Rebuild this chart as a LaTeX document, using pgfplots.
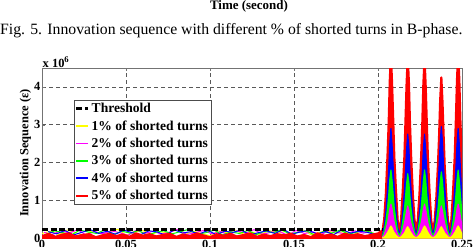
\documentclass[border=0pt]{standalone}
\usepackage{pgfplots}
\pgfplotsset{compat=1.18}
\usepackage{fontspec}
\setmainfont{Liberation Serif}

\definecolor{mYellow}{rgb}{1,1,0}
\definecolor{mMagenta}{rgb}{1,0,1}
\definecolor{mGreen}{rgb}{0,1,0}
\definecolor{mBlue}{rgb}{0,0,1}
\definecolor{mRed}{rgb}{1,0,0}

\begin{document}
\begin{tikzpicture}
\begin{axis}[
  at={(0,0)}, anchor=south west,
  scale only axis, width=420bp, height=170bp,
  xmin=0, xmax=0.25, ymin=0, ymax=4.5,
  xtick={0,0.05,0.1,0.15,0.2,0.25},
  xticklabels={0,0.05,0.1,0.15,0.2,0.25},
  ytick={0,1,2,3,4}, yticklabels={0,1,2,3,4},
  tick label style={font=\bfseries\fontsize{12.5}{13}\selectfont},
  yticklabel style={inner sep=1.5bp},
  xticklabel style={inner sep=2bp},
  grid=major,
  major grid style={black!65, line width=0.5bp, dash pattern=on 4bp off 3bp},
  axis line style={black!55, line width=0.6bp},
  tick style={black!55},
  major tick length=3bp,
  ylabel={Innovation Sequence (ε)},
  ylabel style={font=\bfseries\fontsize{12.5}{13}\selectfont, yshift=-2bp},
  legend style={at={(0.076,0.812)}, anchor=north west,
    font=\bfseries\fontsize{13.6}{14}\selectfont,
    draw=black!70, line width=0.6bp, fill=white,
    inner xsep=1bp, inner ysep=1bp, row sep=2.4bp},
  legend cell align=left,
  legend image code/.code={\draw[#1] (0bp,0bp) -- (12bp,0bp);},
]

% legend entries
\addlegendimage{black, line width=2.5bp, dash pattern=on 6bp off 2.5bp}
\addlegendentry{Threshold}
\addlegendimage{mYellow, line width=1.8bp}
\addlegendentry{1\% of shorted turns}
\addlegendimage{mMagenta, line width=1.8bp}
\addlegendentry{2\% of shorted turns}
\addlegendimage{mGreen, line width=1.8bp}
\addlegendentry{3\% of shorted turns}
\addlegendimage{mBlue, line width=1.8bp}
\addlegendentry{4\% of shorted turns}
\addlegendimage{mRed, line width=1.8bp}
\addlegendentry{5\% of shorted turns}

% healthy-state residuals (before the fault)
\addplot[mYellow, line width=1bp, forget plot] coordinates {
(0,0.12)(0.005,0.18)(0.010,0.09)(0.015,0.21)(0.020,0.14)(0.025,0.07)(0.030,0.19)(0.035,0.11)(0.040,0.16)(0.045,0.23)
(0.050,0.08)(0.055,0.15)(0.060,0.20)(0.065,0.10)(0.070,0.17)(0.075,0.13)(0.080,0.22)(0.085,0.09)(0.090,0.18)(0.095,0.12)
(0.100,0.06)(0.105,0.19)(0.110,0.14)(0.115,0.21)(0.120,0.10)(0.125,0.16)(0.130,0.08)(0.135,0.20)(0.140,0.13)(0.145,0.17)
(0.150,0.11)(0.155,0.22)(0.160,0.09)(0.165,0.15)(0.170,0.19)(0.175,0.12)(0.180,0.18)(0.185,0.07)(0.190,0.21)(0.195,0.14)
(0.200,0.10)};
\addplot[mMagenta, line width=1bp, forget plot] coordinates {
(0.0012,0.15)(0.0062,0.09)(0.0112,0.20)(0.0162,0.13)(0.0212,0.22)(0.0262,0.08)(0.0312,0.17)(0.0362,0.11)(0.0412,0.19)(0.0462,0.14)
(0.0512,0.07)(0.0562,0.21)(0.0612,0.12)(0.0662,0.18)(0.0712,0.10)(0.0762,0.16)(0.0812,0.23)(0.0862,0.09)(0.0912,0.14)(0.0962,0.20)
(0.1012,0.11)(0.1062,0.17)(0.1112,0.08)(0.1162,0.19)(0.1212,0.13)(0.1262,0.22)(0.1312,0.10)(0.1362,0.15)(0.1412,0.18)(0.1462,0.07)
(0.1512,0.20)(0.1562,0.12)(0.1612,0.16)(0.1662,0.09)(0.1712,0.21)(0.1762,0.14)(0.1812,0.11)(0.1862,0.19)(0.1912,0.13)(0.1962,0.17)};
\addplot[mGreen, line width=1bp, forget plot] coordinates {
(0.0025,0.10)(0.0075,0.19)(0.0125,0.14)(0.0175,0.08)(0.0225,0.21)(0.0275,0.16)(0.0325,0.12)(0.0375,0.22)(0.0425,0.09)(0.0475,0.18)
(0.0525,0.13)(0.0575,0.20)(0.0625,0.07)(0.0675,0.15)(0.0725,0.19)(0.0775,0.11)(0.0825,0.17)(0.0875,0.23)(0.0925,0.10)(0.0975,0.14)
(0.1025,0.21)(0.1075,0.08)(0.1125,0.16)(0.1175,0.12)(0.1225,0.20)(0.1275,0.09)(0.1325,0.18)(0.1375,0.14)(0.1425,0.22)(0.1475,0.11)
(0.1525,0.15)(0.1575,0.19)(0.1625,0.07)(0.1675,0.17)(0.1725,0.13)(0.1775,0.21)(0.1825,0.10)(0.1875,0.16)(0.1925,0.20)(0.1975,0.12)};
\addplot[mBlue, line width=1bp, forget plot] coordinates {
(0.0037,0.17)(0.0087,0.11)(0.0137,0.20)(0.0187,0.08)(0.0237,0.15)(0.0287,0.22)(0.0337,0.12)(0.0387,0.18)(0.0437,0.10)(0.0487,0.21)
(0.0537,0.14)(0.0587,0.09)(0.0637,0.19)(0.0687,0.16)(0.0737,0.07)(0.0787,0.22)(0.0837,0.13)(0.0887,0.17)(0.0937,0.11)(0.0987,0.20)
(0.1037,0.09)(0.1087,0.18)(0.1137,0.15)(0.1187,0.21)(0.1237,0.08)(0.1287,0.14)(0.1337,0.19)(0.1387,0.12)(0.1437,0.23)(0.1487,0.10)
(0.1537,0.16)(0.1587,0.20)(0.1637,0.11)(0.1687,0.17)(0.1737,0.09)(0.1787,0.22)(0.1837,0.13)(0.1887,0.18)(0.1937,0.15)(0.1987,0.08)};

% 5% case: healthy band followed by the fault response
\addplot[mRed, fill=mRed, line width=2.2bp, line join=round, forget plot] coordinates {
(0,0.05)(0.004,0.11)(0.008,0.03)(0.012,0.09)(0.016,0.12)(0.020,0.04)(0.024,0.08)(0.028,0.10)(0.032,0.02)(0.036,0.07)
(0.040,0.11)(0.044,0.05)(0.048,0.09)(0.052,0.03)(0.056,0.12)(0.060,0.06)(0.064,0.10)(0.068,0.04)(0.072,0.08)(0.076,0.11)
(0.080,0.03)(0.084,0.09)(0.088,0.05)(0.092,0.12)(0.096,0.07)(0.100,0.02)(0.104,0.10)(0.108,0.06)(0.112,0.11)(0.116,0.04)
(0.120,0.08)(0.124,0.12)(0.128,0.03)(0.132,0.09)(0.136,0.05)(0.140,0.10)(0.144,0.07)(0.148,0.11)(0.152,0.04)(0.156,0.08)
(0.160,0.02)(0.164,0.12)(0.168,0.06)(0.172,0.09)(0.176,0.03)(0.180,0.11)(0.184,0.07)(0.188,0.10)(0.192,0.05)(0.196,0.08)
(0.200,0.12)(0.2027,0.20)
(0.2037,0.50)(0.2047,1.18)(0.2057,2.22)(0.2064,3.10)(0.2070,4.15)(0.2077,4.85)(0.2084,4.05)(0.2090,3.20)(0.2097,2.15)(0.2107,1.25)(0.2117,0.47)(0.2127,0.20)
(0.2137,0.46)(0.2147,1.22)(0.2157,2.14)(0.2164,3.15)(0.2170,4.05)(0.2177,4.80)(0.2184,4.10)(0.2190,3.08)(0.2197,2.18)(0.2207,1.18)(0.2217,0.49)(0.2227,0.22)
(0.2237,0.48)(0.2247,1.17)(0.2257,2.16)(0.2264,3.07)(0.2270,4.06)(0.2277,4.75)(0.2284,4.00)(0.2290,3.11)(0.2297,2.12)(0.2307,1.20)(0.2317,0.46)(0.2327,0.20)
(0.2337,0.44)(0.2347,1.05)(0.2357,1.93)(0.2364,2.74)(0.2370,3.63)(0.2377,4.25)(0.2384,3.58)(0.2390,2.78)(0.2397,1.90)(0.2407,1.08)(0.2417,0.42)(0.2427,0.21)
(0.2437,0.49)(0.2447,1.24)(0.2457,2.19)(0.2464,3.20)(0.2470,4.15)(0.2477,4.90)(0.2484,4.18)(0.2490,3.17)(0.2497,2.22)(0.2500,1.85)
} \closedcycle;

% detection threshold
\addplot[black, line width=2.5bp, dash pattern=on 6bp off 2.5bp, forget plot] coordinates {(0,0.23)(0.2027,0.23)};

% fault responses, 4% down to 1%
\addplot[mBlue, fill=mBlue, line width=1.2bp, line join=round, forget plot] coordinates {
(0.2027,0.09)
(0.2037,0.30)(0.2047,0.71)(0.2057,1.32)(0.2064,1.87)(0.2070,2.48)(0.2077,2.90)(0.2084,2.44)(0.2090,1.90)(0.2097,1.29)(0.2107,0.74)(0.2117,0.28)(0.2127,0.09)
(0.2137,0.27)(0.2147,0.70)(0.2157,1.22)(0.2164,1.81)(0.2170,2.33)(0.2177,2.75)(0.2184,2.36)(0.2190,1.77)(0.2197,1.25)(0.2207,0.68)(0.2217,0.28)(0.2227,0.08)
(0.2237,0.28)(0.2247,0.67)(0.2257,1.25)(0.2264,1.78)(0.2270,2.35)(0.2277,2.75)(0.2284,2.32)(0.2290,1.80)(0.2297,1.23)(0.2307,0.70)(0.2317,0.27)(0.2327,0.09)
(0.2337,0.29)(0.2347,0.75)(0.2357,1.31)(0.2364,1.93)(0.2370,2.50)(0.2377,2.95)(0.2384,2.52)(0.2390,1.90)(0.2397,1.34)(0.2407,0.73)(0.2417,0.30)(0.2427,0.08)
(0.2437,0.29)(0.2447,0.73)(0.2457,1.30)(0.2464,1.89)(0.2470,2.46)(0.2477,2.90)(0.2484,2.47)(0.2490,1.88)(0.2497,1.31)(0.2500,1.10)
} \closedcycle;
\addplot[mGreen, fill=mGreen, line width=1.1bp, line join=round, forget plot] coordinates {
(0.2027,0.06)
(0.2037,0.19)(0.2047,0.44)(0.2057,0.82)(0.2064,1.16)(0.2070,1.54)(0.2077,1.80)(0.2084,1.52)(0.2090,1.18)(0.2097,0.80)(0.2107,0.46)(0.2117,0.17)(0.2127,0.06)
(0.2137,0.17)(0.2147,0.43)(0.2157,0.76)(0.2164,1.11)(0.2170,1.44)(0.2177,1.70)(0.2184,1.46)(0.2190,1.10)(0.2197,0.77)(0.2207,0.42)(0.2217,0.18)(0.2227,0.05)
(0.2237,0.18)(0.2247,0.45)(0.2257,0.80)(0.2264,1.18)(0.2270,1.52)(0.2277,1.80)(0.2284,1.54)(0.2290,1.16)(0.2297,0.82)(0.2307,0.44)(0.2317,0.18)(0.2327,0.06)
(0.2337,0.17)(0.2347,0.44)(0.2357,0.78)(0.2364,1.15)(0.2370,1.48)(0.2377,1.75)(0.2384,1.50)(0.2390,1.13)(0.2397,0.79)(0.2407,0.45)(0.2417,0.17)(0.2427,0.05)
(0.2437,0.18)(0.2447,0.46)(0.2457,0.81)(0.2464,1.17)(0.2470,1.53)(0.2477,1.80)(0.2484,1.52)(0.2490,1.18)(0.2497,0.80)(0.2500,0.68)
} \closedcycle;
\addplot[mMagenta, fill=mMagenta, line width=1bp, line join=round, forget plot] coordinates {
(0.2027,0.03)
(0.2037,0.09)(0.2047,0.23)(0.2057,0.40)(0.2064,0.59)(0.2070,0.76)(0.2077,0.90)(0.2084,0.77)(0.2090,0.58)(0.2097,0.41)(0.2107,0.22)(0.2117,0.09)(0.2127,0.03)
(0.2137,0.08)(0.2147,0.21)(0.2157,0.39)(0.2164,0.55)(0.2170,0.72)(0.2177,0.85)(0.2184,0.73)(0.2190,0.54)(0.2197,0.38)(0.2207,0.22)(0.2217,0.09)(0.2227,0.03)
(0.2237,0.09)(0.2247,0.22)(0.2257,0.41)(0.2264,0.58)(0.2270,0.77)(0.2277,0.90)(0.2284,0.76)(0.2290,0.59)(0.2297,0.40)(0.2307,0.23)(0.2317,0.09)(0.2327,0.03)
(0.2337,0.09)(0.2347,0.21)(0.2357,0.38)(0.2364,0.56)(0.2370,0.72)(0.2377,0.85)(0.2384,0.72)(0.2390,0.55)(0.2397,0.39)(0.2407,0.21)(0.2417,0.08)(0.2427,0.03)
(0.2437,0.09)(0.2447,0.23)(0.2457,0.40)(0.2464,0.58)(0.2470,0.77)(0.2477,0.90)(0.2484,0.76)(0.2490,0.59)(0.2497,0.41)(0.2500,0.34)
} \closedcycle;
\addplot[mYellow, fill=mYellow, line width=1bp, line join=round, forget plot] coordinates {
(0.2027,0.01)
(0.2037,0.03)(0.2047,0.08)(0.2057,0.15)(0.2064,0.21)(0.2070,0.27)(0.2077,0.32)(0.2084,0.27)(0.2090,0.20)(0.2097,0.14)(0.2107,0.08)(0.2117,0.03)(0.2127,0.01)
(0.2137,0.03)(0.2147,0.08)(0.2157,0.13)(0.2164,0.20)(0.2170,0.26)(0.2177,0.30)(0.2184,0.25)(0.2190,0.19)(0.2197,0.14)(0.2207,0.07)(0.2217,0.03)(0.2227,0.01)
(0.2237,0.03)(0.2247,0.08)(0.2257,0.14)(0.2264,0.21)(0.2270,0.27)(0.2277,0.32)(0.2284,0.28)(0.2290,0.21)(0.2297,0.15)(0.2307,0.08)(0.2317,0.03)(0.2327,0.01)
(0.2337,0.03)(0.2347,0.07)(0.2357,0.14)(0.2364,0.19)(0.2370,0.26)(0.2377,0.30)(0.2384,0.25)(0.2390,0.20)(0.2397,0.13)(0.2407,0.08)(0.2417,0.03)(0.2427,0.01)
(0.2437,0.03)(0.2447,0.08)(0.2457,0.15)(0.2464,0.21)(0.2470,0.27)(0.2477,0.32)(0.2484,0.27)(0.2490,0.21)(0.2497,0.14)(0.2500,0.12)
} \closedcycle;
\end{axis}

% axis multiplier and the text above the plot
\node[anchor=south west, inner sep=0.5bp, font=\bfseries\fontsize{12.5}{13}\selectfont] at (0bp,170bp) {x 10\textsuperscript{6}};
\node[anchor=base west, inner sep=0, font=\fontsize{15.8}{16}\selectfont] at (-42bp,203bp)
  {Fig. 5. Innovation sequence with different \% of shorted turns in B-phase.};
\node[anchor=base, inner sep=0, font=\bfseries\fontsize{13}{14}\selectfont] at (207bp,228.5bp) {Time (second)};

\pgfresetboundingbox
\useasboundingbox (-42bp,-9bp) rectangle (432bp,238bp);
\end{tikzpicture}
\end{document}
